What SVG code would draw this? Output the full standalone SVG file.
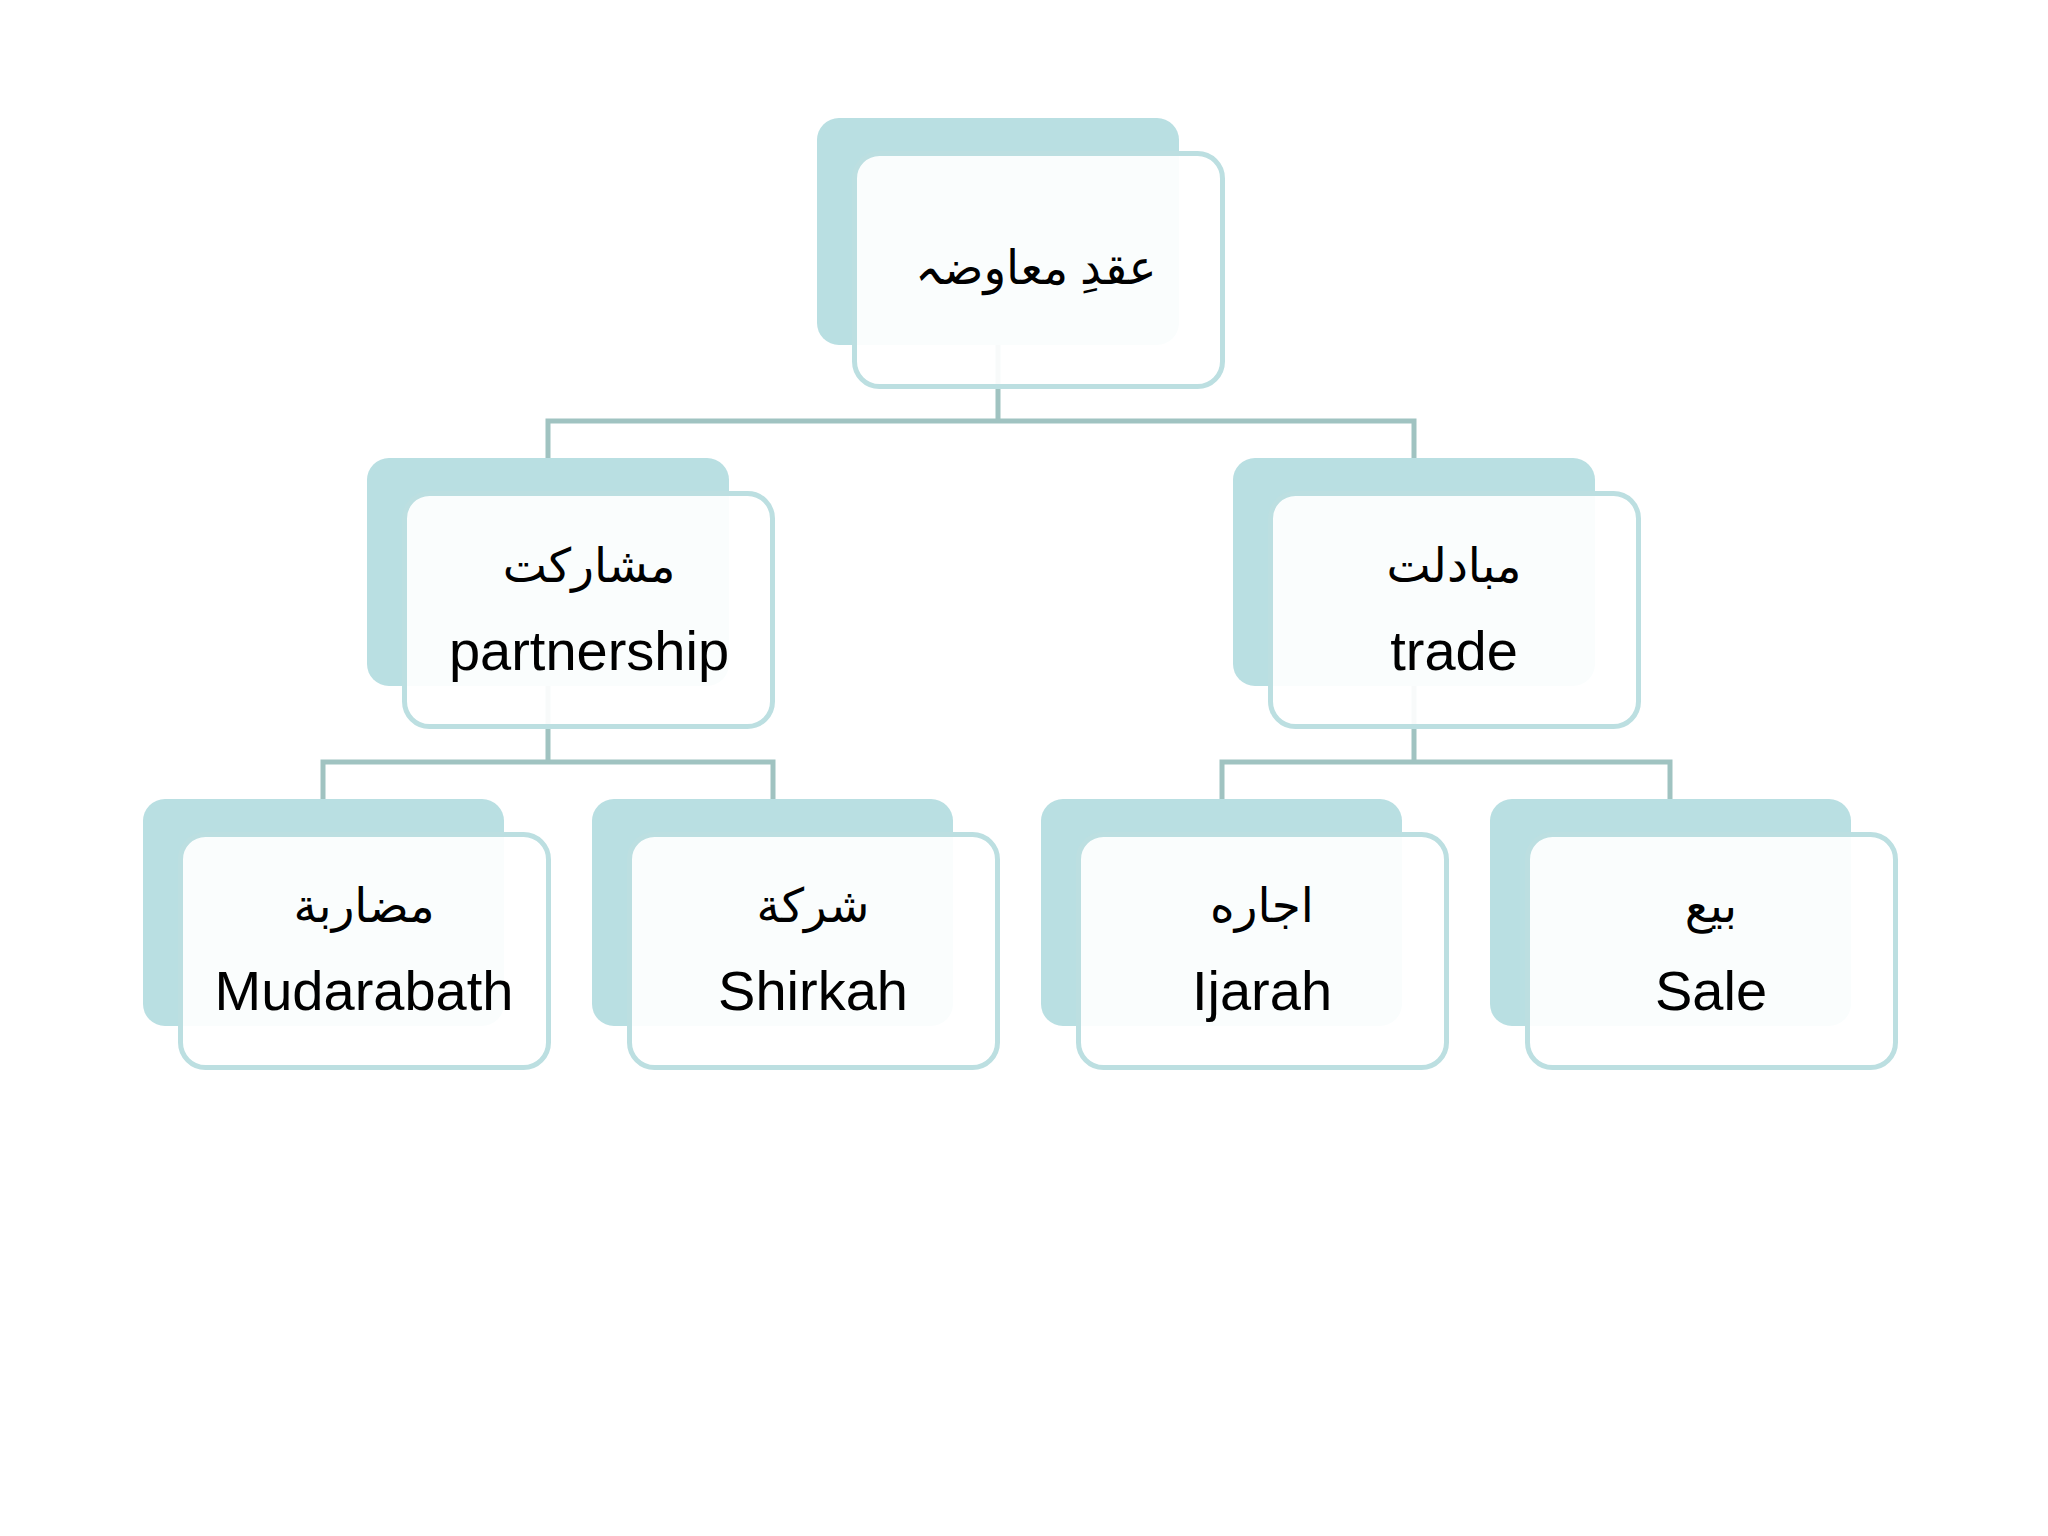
<svg xmlns="http://www.w3.org/2000/svg" width="2048" height="1536" viewBox="0 0 2048 1536">
<style>
.back{fill:#b9dfe2}
.front{fill:#ffffff;fill-opacity:0.92;stroke:#bcdfe1;stroke-width:5}
.conn{fill:none;stroke:#a0c3c1;stroke-width:5}
.ar{font-family:"Liberation Serif","DejaVu Sans",serif;font-size:47px;fill:#000;text-anchor:middle}
.en{font-family:"Liberation Sans",Arial,sans-serif;font-size:56px;fill:#000;text-anchor:middle}
</style>
<rect width="2048" height="1536" fill="#ffffff"/>
<g id="connectors">
<path class="conn" d="M998 345V421M548 458V421H1414V458"/>
<path class="conn" d="M548 686V762M323 799V762H773V799"/>
<path class="conn" d="M1414 686V762M1222 799V762H1670V799"/>
</g>
<g id="node-root">
<rect class="back" x="817" y="118" width="362" height="227" rx="22"/>
<rect class="front" x="854.5" y="153.5" width="368" height="233" rx="25"/>
<text class="ar" x="1036" y="284">عقدِ معاوضہ</text>
</g>
<g id="node-partnership">
<rect class="back" x="367" y="458" width="362" height="228" rx="22"/>
<rect class="front" x="404.5" y="493.5" width="368" height="233" rx="25"/>
<text class="ar" x="589" y="582">مشارکت</text>
<text class="en" x="589" y="670">partnership</text>
</g>
<g id="node-trade">
<rect class="back" x="1233" y="458" width="362" height="228" rx="22"/>
<rect class="front" x="1270.5" y="493.5" width="368" height="233" rx="25"/>
<text class="ar" x="1454" y="582">مبادلت</text>
<text class="en" x="1454" y="670">trade</text>
</g>
<g id="node-mudarabath">
<rect class="back" x="143" y="799" width="361" height="227" rx="22"/>
<rect class="front" x="180.5" y="834.5" width="368" height="233" rx="25"/>
<text class="ar" x="364" y="922">مضاربة</text>
<text class="en" x="364" y="1010">Mudarabath</text>
</g>
<g id="node-shirkah">
<rect class="back" x="592" y="799" width="361" height="227" rx="22"/>
<rect class="front" x="629.5" y="834.5" width="368" height="233" rx="25"/>
<text class="ar" x="813" y="922">شرکة</text>
<text class="en" x="813" y="1010">Shirkah</text>
</g>
<g id="node-ijarah">
<rect class="back" x="1041" y="799" width="361" height="227" rx="22"/>
<rect class="front" x="1078.5" y="834.5" width="368" height="233" rx="25"/>
<text class="ar" x="1262" y="922">اجاره</text>
<text class="en" x="1262" y="1010">Ijarah</text>
</g>
<g id="node-sale">
<rect class="back" x="1490" y="799" width="361" height="227" rx="22"/>
<rect class="front" x="1527.5" y="834.5" width="368" height="233" rx="25"/>
<text class="ar" x="1711" y="922">بيع</text>
<text class="en" x="1711" y="1010">Sale</text>
</g>
</svg>
